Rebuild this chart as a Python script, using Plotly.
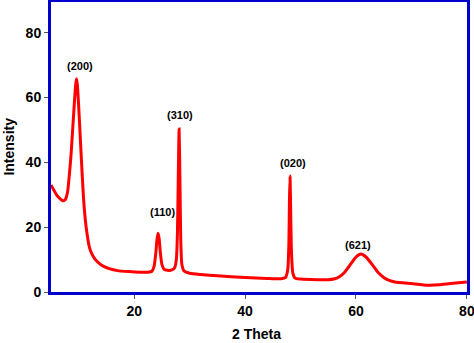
import plotly.graph_objects as go

two_theta = [5.0, 5.5, 6.0, 6.5, 7.0, 7.3, 7.6, 8.0, 8.3, 8.6, 8.9, 9.2, 9.45, 9.6, 9.75,
             10.0, 10.3, 10.6, 10.9, 11.2, 11.5, 11.9, 12.3, 13.0, 13.8, 14.5, 15.5, 17.0,
             19.0, 21.0, 22.5, 23.2, 23.6, 23.9, 24.1, 24.3, 24.5, 24.7, 25.0, 25.4, 26.0,
             26.8, 27.3, 27.6, 27.8, 27.95, 28.1, 28.25, 28.4, 28.6, 29.0, 30.0, 32.0, 35.0,
             40.0, 44.0, 46.5, 47.3, 47.7, 47.9, 48.0, 48.1, 48.2, 48.35, 48.6, 49.0, 50.0,
             53.0, 55.0, 56.0, 57.0, 58.0, 59.0, 60.0, 60.9, 61.8, 63.0, 64.0, 65.0,
             66.0, 67.0, 70.0, 73.0, 75.0, 77.0, 80.0]
intensity = [33.0, 31.5, 30.0, 29.0, 28.3, 28.2, 28.6, 31.0, 36.0, 42.0, 50.0, 58.0, 64.0, 65.8, 64.0,
             57.0, 47.0, 37.0, 28.0, 22.0, 18.0, 14.0, 12.0, 10.0, 8.7, 7.9, 7.2, 6.6,
             6.3, 6.1, 6.1, 6.4, 8.0, 12.0, 16.0, 18.1, 16.5, 12.5, 8.5, 7.0, 6.7,
             6.8, 7.5, 10.0, 18.0, 35.0, 50.3, 35.0, 16.0, 8.5, 6.5, 5.8, 5.4, 5.0,
             4.5, 4.2, 4.1, 4.5, 7.0, 15.0, 28.0, 35.8, 28.0, 13.0, 6.0, 4.3, 4.0,
             3.8, 3.8, 4.0, 4.7, 6.2, 8.5, 10.8, 11.7, 10.8, 8.3, 6.0, 4.5,
             3.6, 3.1, 2.6, 2.1, 2.2, 2.6, 3.1]

peak_labels = ["(200)", "(110)", "(310)", "(020)", "(621)"]
label_x = [10.3, 25.1, 28.2, 48.6, 60.4]
label_y = [69.9, 24.7, 54.7, 39.8, 14.4]

x_ticks = [20, 40, 60, 80]
y_ticks = [0, 20, 40, 60, 80]

BLUE = "#0000CC"
FONT = "Liberation Sans, Arial"

fig = go.Figure()
fig.add_trace(go.Scatter(x=two_theta, y=intensity, mode="lines",
                         line=dict(color="#FF0000", width=3, shape="spline", smoothing=0.5),
                         showlegend=False, hoverinfo="skip"))

for t, xx, yy in zip(peak_labels, label_x, label_y):
    fig.add_annotation(x=xx, y=yy, text="<b>" + t + "</b>", showarrow=False,
                       font=dict(family=FONT, size=11, color="black"))

# axis titles
fig.add_annotation(xref="paper", yref="paper", x=0.495, y=-0.145, xanchor="center", yanchor="middle",
                   text="<b>2 Theta</b>", showarrow=False, font=dict(family=FONT, size=14, color="black"))
fig.add_annotation(xref="paper", yref="paper", x=-0.102, y=0.5, xanchor="center", yanchor="middle",
                   textangle=-90, text="<b>Intensity</b>", showarrow=False,
                   font=dict(family=FONT, size=14, color="black"))

axis_font = dict(family=FONT, size=14, color="black")
fig.update_xaxes(range=[5, 80.02], tickvals=x_ticks, ticktext=["<b>%d</b>" % v for v in x_ticks],
                 showline=True, linecolor=BLUE, linewidth=3, mirror=True,
                 ticks="outside", ticklen=4, tickcolor="#555555", showgrid=False, zeroline=False,
                 tickfont=axis_font, ticklabeloverflow="allow", automargin=False)
fig.update_yaxes(range=[0, 89.5], tickvals=y_ticks, ticktext=["<b>%d</b>" % v for v in y_ticks],
                 showline=True, linecolor=BLUE, linewidth=3, mirror=True,
                 ticks="outside", ticklen=4, tickcolor="#555555", showgrid=False, zeroline=False,
                 tickfont=axis_font, automargin=False)

fig.update_layout(width=474, height=343, margin=dict(l=51, r=7, t=2, b=51),
                  plot_bgcolor="white", paper_bgcolor="white")

fig.write_html("out.html")
